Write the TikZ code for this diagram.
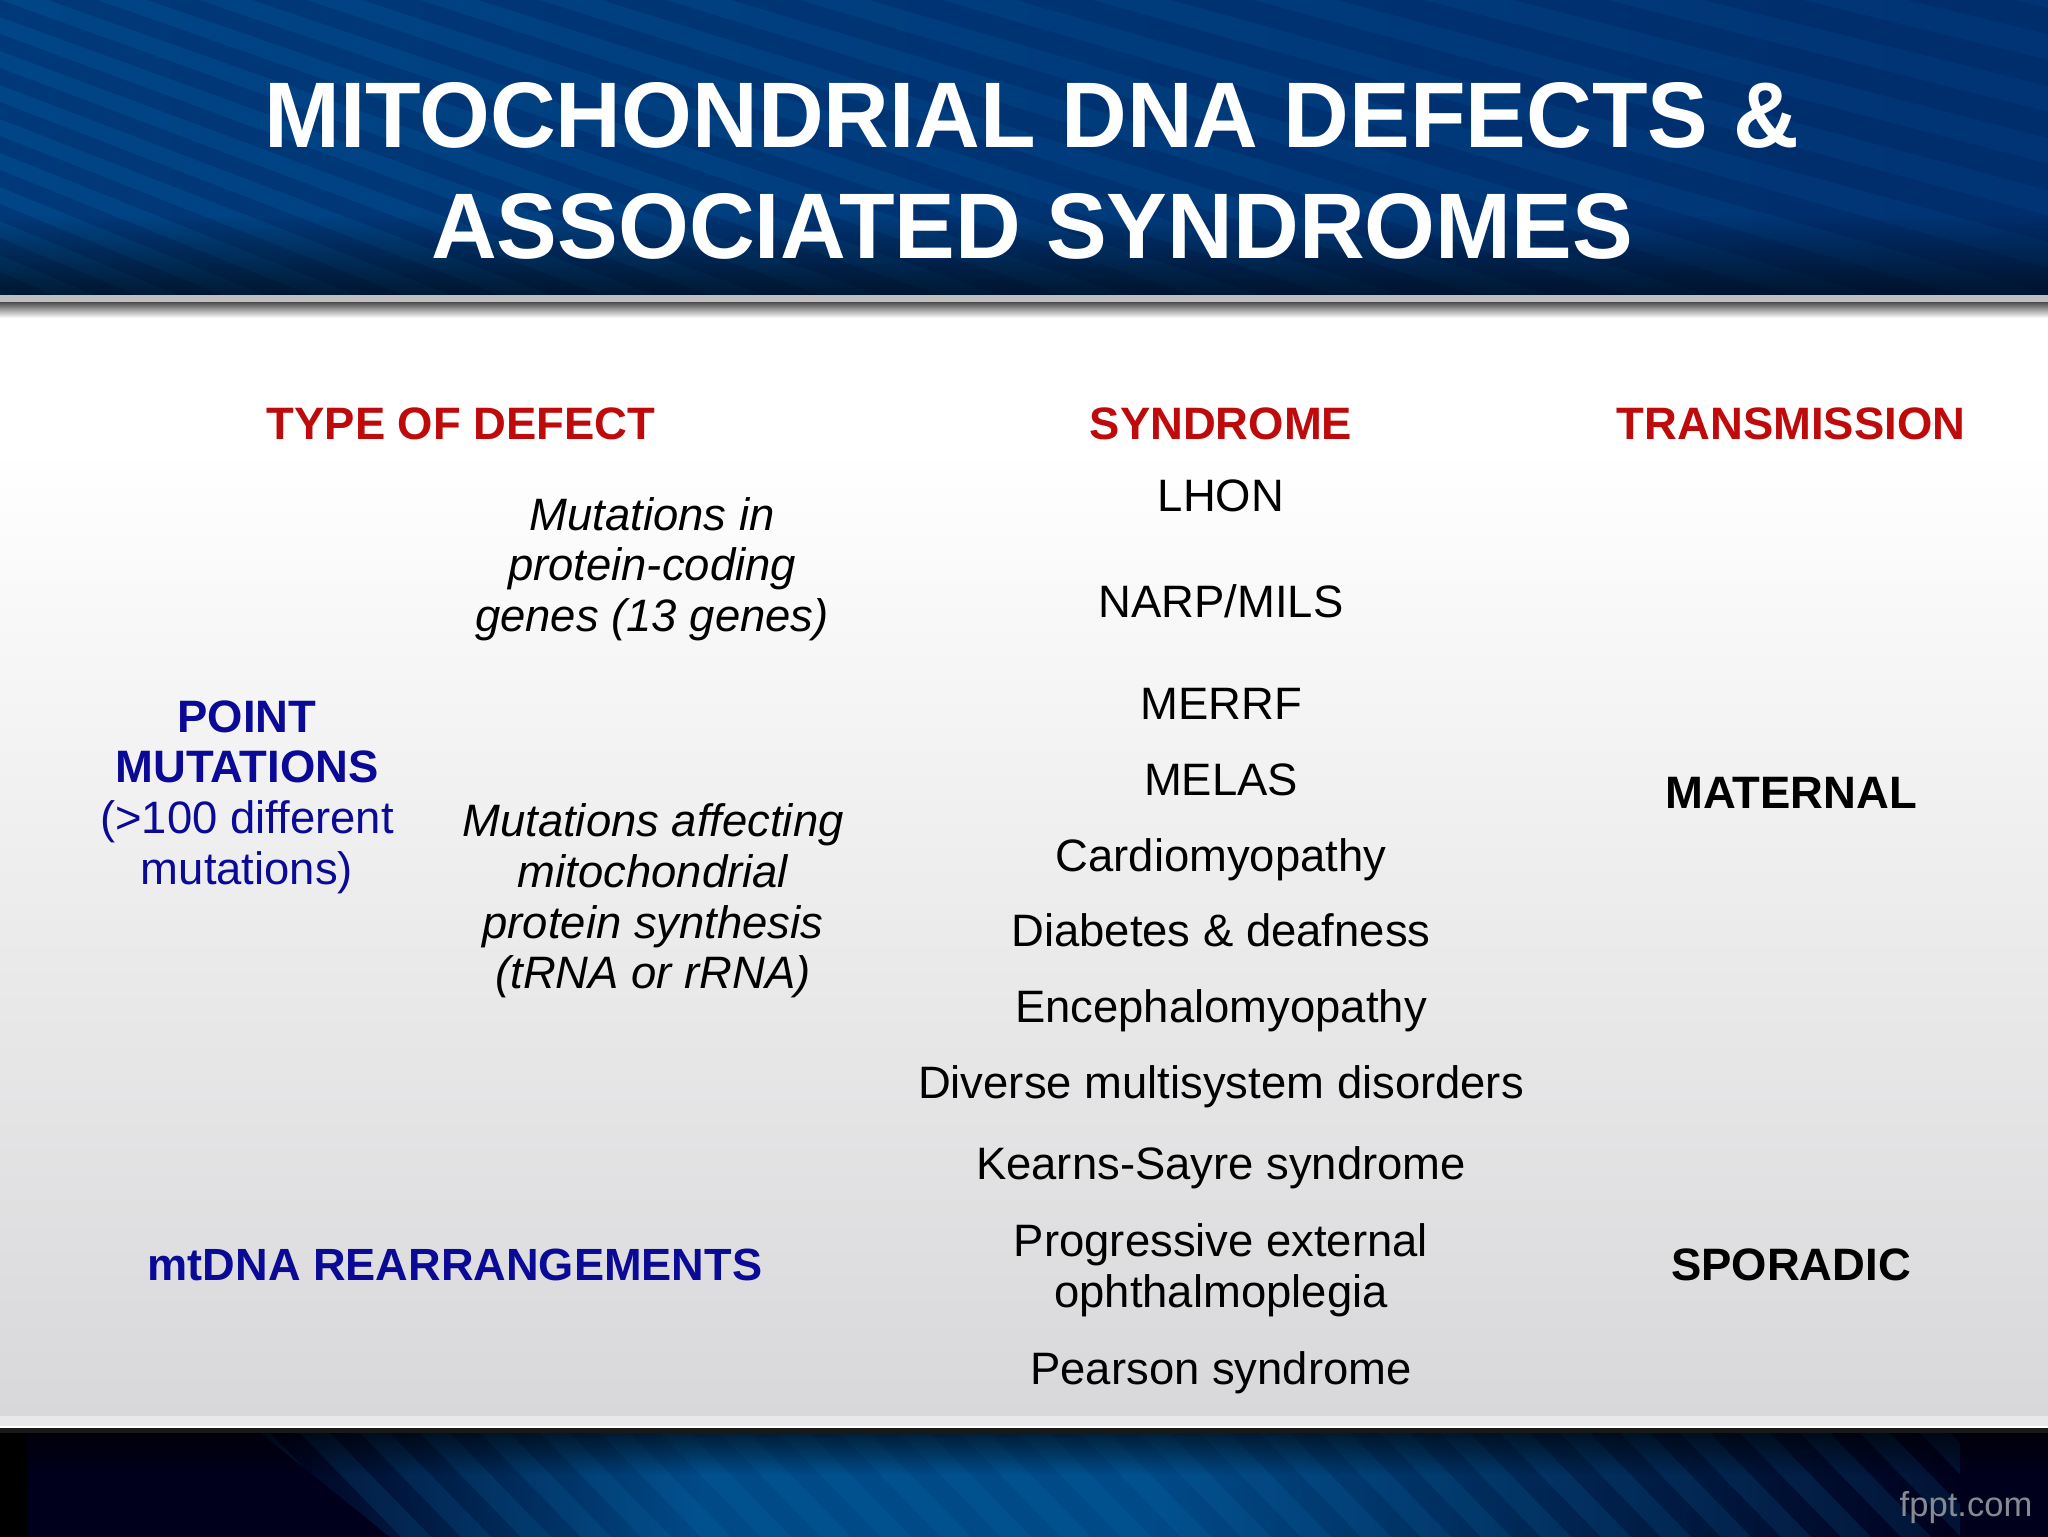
\documentclass[tikz,border=0pt]{standalone}
\usepackage{fontspec}
\setmainfont{Liberation Sans}
\newfontfamily\titlefont[FakeStretch=0.977]{Liberation Sans}
\usetikzlibrary{fadings}
\definecolor{headlight}{HTML}{004586}
\definecolor{headdark}{HTML}{003474}
\definecolor{stripedark}{HTML}{001C58}
\definecolor{footblue}{HTML}{004A88}
\definecolor{footlight}{HTML}{1078B8}
\definecolor{footdark}{HTML}{00001C}
\definecolor{bodygray}{HTML}{D8D7D9}
\definecolor{defectred}{HTML}{BE0A0A}
\definecolor{mutblue}{HTML}{0A0A96}
\definecolor{markgray}{HTML}{858B92}
\begin{document}
\begin{tikzpicture}[
      x=0.35pt,y=-0.35pt,
      title/.style={font=\titlefont\fontsize{32.6}{38.6}\selectfont\bfseries,text=white,align=center},
      heading/.style={font=\fontsize{15.9}{17.75}\selectfont\bfseries,text=defectred},
      kind/.style={font=\fontsize{15.9}{17.75}\selectfont\itshape,align=center},
      group/.style={font=\fontsize{15.9}{17.75}\selectfont,text=mutblue,align=center},
      syndrome/.style={font=\fontsize{15.9}{17.75}\selectfont,align=center,anchor=base},
      route/.style={font=\fontsize{15.9}{17.75}\selectfont\bfseries}
    ]
    \useasboundingbox (0,0) rectangle (2048,1536);
    % Draw the body.
    \fill[white] (0,300) rectangle (2052,450);
    \shade[top color=white,bottom color=bodygray] (0,450) rectangle (2052,1416);
    \fill[black!9] (0,1416) rectangle (2052,1426);
    \fill[white] (0,1426) rectangle (2052,1428);
    % Draw the top band.
    \shade[left color=headlight,right color=headdark] (0,0) rectangle (2052,295);
    \begin{scope}
      \clip (0,0) rectangle (2052,295);
      \foreach \k in {-17,...,9}
        \fill[stripedark,opacity=0.28] (0,34*\k) -- (2052,737+52*\k) -- (2052,737+52*\k+26) -- (0,34*\k+17) -- cycle;
    \end{scope}
    \fill[black,opacity=0.6,path fading=north] (0,215) rectangle (2052,295);
    \fill[black!25] (0,295) rectangle (2052,302);
    \shade[top color=black!70,bottom color=white] (0,302) rectangle (2052,318);
    % Draw the bottom band.
    \fill[black!90] (0,1428) rectangle (2052,1433);
    \fill[black] (0,1433) rectangle (27,1542);
    \fill[footdark] (27,1433) rectangle (2052,1542);
    \shade[left color=footdark,right color=footblue] (261,1433) -- (700,1433) -- (700,1542) -- (396,1542) -- cycle;
    \fill[footblue] (700,1433) rectangle (1150,1542);
    \shade[left color=footblue,right color=footdark] (1150,1433) rectangle (1960,1542);
    \begin{scope}
      \clip (261,1433) -- (1960,1433) -- (1960,1542) -- (396,1542) -- cycle;
      \foreach \x in {240,300,...,1960}
        \fill[footlight,opacity=0.16] (\x,1433) -- (\x+30,1433) -- (\x+136,1542) -- (\x+106,1542) -- cycle;
    \end{scope}
    \fill[black,opacity=0.6,path fading=south] (27,1433) rectangle (2052,1475);
    % Draw the title.
    \node[title] (heading) at (1032,171) {MITOCHONDRIAL DNA DEFECTS \&\\ASSOCIATED SYNDROMES};
    % Column heads.
    \node[heading] (typehead) at (461,424) {TYPE OF DEFECT};
    \node[heading] (synhead) at (1221,424) {SYNDROME};
    \node[heading] (transhead) at (1791,424) {TRANSMISSION};
    % Type of defect.
    \node[group] (point) at (247,797) {\textbf{POINT}\\\textbf{MUTATIONS}\\(>100 different\\mutations)};
    \node[kind] (coding) at (652,569) {Mutations in\\protein-coding\\genes (13 genes)};
    \node[kind] (synthesis) at (653,901) {Mutations affecting\\mitochondrial\\protein synthesis\\(tRNA or rRNA)};
    \node[group,font=\fontsize{15.8}{17.75}\selectfont\bfseries] (rearr) at (455,1265) {mtDNA REARRANGEMENTS};
    % Syndromes.
    \node[syndrome] (lhon) at (1221,511) {LHON};
    \node[syndrome] (narp) at (1221,617) {NARP/MILS};
    \node[syndrome] (merrf) at (1221,719) {MERRF};
    \node[syndrome] (melas) at (1221,795) {MELAS};
    \node[syndrome] (cardio) at (1221,871) {Cardiomyopathy};
    \node[syndrome] (diabetes) at (1221,946) {Diabetes \& deafness};
    \node[syndrome] (enceph) at (1221,1022) {Encephalomyopathy};
    \node[syndrome] (diverse) at (1221,1098) {Diverse multisystem disorders};
    \node[syndrome] (kearns) at (1221,1179) {Kearns-Sayre syndrome};
    \node[syndrome,anchor=center] (progressive) at (1221,1270) {Progressive external\\ophthalmoplegia};
    \node[syndrome] (pearson) at (1221,1384) {Pearson syndrome};
    % Transmission.
    \node[route] (maternal) at (1791,793) {MATERNAL};
    \node[route] (sporadic) at (1791,1265) {SPORADIC};
    \node[text=markgray,font=\fontsize{12.1}{14}\selectfont] (mark) at (1966,1508) {fppt.com};
\end{tikzpicture}
\end{document}
